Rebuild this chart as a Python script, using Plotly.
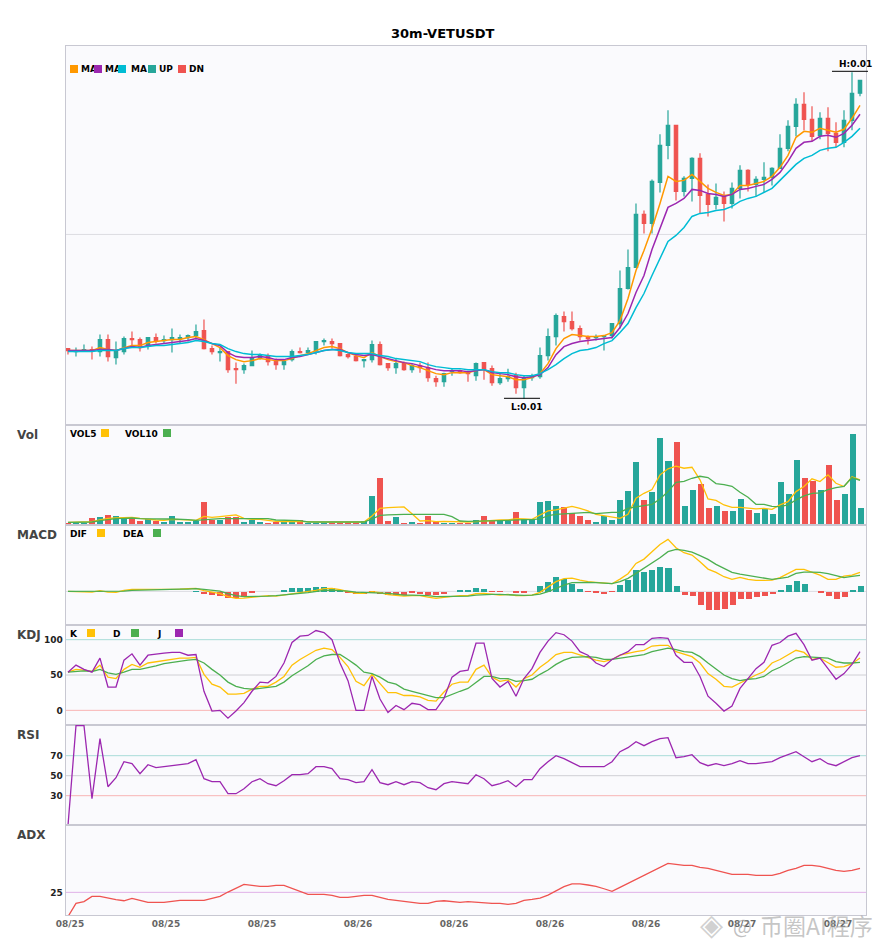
import plotly.graph_objects as go
from plotly.subplots import make_subplots

# Prices are in units of 1e-5 USDT
open_ = [1076,1073,1074,1075,1073,1085,1067,1073,1086,1085,1079,1087,1084,1085,1086,1087,1089,1094,1076,1072,
         1073,1056,1055,1059,1067,1069,1064,1060,1065,1073,1072,1074,1083,1083,1081,1070,1068,1064,1065,1080,
         1061,1057,1061,1055,1059,1057,1046,1043,1053,1054,1052,1049,1062,1056,1042,1046,1049,1037,1047,1048,
         1069,1088,1108,1103,1096,1087,1087,1088,1089,1101,1136,1157,1210,1201,1242,1279,1299,1233,1246,1266,
         1230,1220,1228,1221,1236,1254,1240,1245,1247,1256,1276,1298,1320,1305,1289,1306,1291,1282,1304,1331]
high = [1076,1077,1080,1078,1090,1090,1083,1088,1093,1087,1087,1091,1089,1096,1090,1090,1100,1105,1079,1077,
        1073,1062,1061,1074,1071,1071,1066,1064,1075,1077,1077,1083,1086,1086,1081,1071,1071,1065,1084,1083,
        1061,1066,1063,1061,1062,1062,1049,1052,1056,1055,1054,1062,1062,1059,1051,1056,1052,1049,1051,1077,
        1096,1111,1113,1113,1099,1089,1090,1089,1101,1154,1175,1221,1214,1245,1290,1314,1299,1248,1267,1271,
        1240,1241,1233,1242,1259,1255,1248,1262,1257,1290,1304,1326,1332,1318,1312,1317,1302,1314,1352,1344]
low = [1070,1068,1074,1065,1068,1063,1060,1070,1078,1073,1075,1081,1081,1072,1081,1083,1085,1075,1070,1063,
       1052,1041,1051,1059,1065,1059,1055,1055,1063,1071,1070,1070,1079,1076,1068,1066,1063,1057,1062,1059,
       1054,1051,1054,1052,1052,1043,1038,1038,1049,1051,1043,1044,1045,1039,1040,1043,1031,1026,1044,1046,
       1064,1079,1093,1094,1084,1080,1084,1074,1086,1096,1135,1157,1191,1191,1232,1265,1224,1228,1223,1211,
       1208,1215,1203,1216,1226,1233,1228,1232,1239,1256,1273,1288,1294,1283,1285,1273,1277,1277,1294,1328]
close = [1074,1074,1075,1074,1085,1068,1073,1086,1085,1077,1087,1084,1085,1087,1087,1089,1093,1076,1073,1073,
         1055,1055,1059,1067,1070,1063,1060,1063,1073,1072,1074,1083,1084,1081,1069,1068,1064,1065,1080,1060,
         1057,1061,1055,1059,1057,1047,1043,1051,1054,1052,1051,1061,1056,1042,1046,1048,1037,1046,1048,1069,
         1088,1109,1103,1096,1088,1086,1088,1089,1101,1136,1157,1210,1201,1243,1279,1299,1233,1246,1266,1229,
         1220,1227,1221,1236,1254,1240,1245,1247,1256,1276,1298,1320,1305,1288,1306,1291,1282,1304,1331,1344]
ma_a = [1074,1074,1074,1074,1077,1075,1074,1077,1079,1079,1082,1083,1084,1085,1085,1087,1088,1085,1081,1077,
        1069,1065,1063,1064,1066,1065,1064,1064,1066,1069,1071,1074,1077,1078,1076,1072,1069,1067,1072,1068,
        1065,1063,1062,1059,1057,1054,1051,1050,1052,1052,1052,1054,1055,1050,1049,1048,1045,1045,1047,1051,
        1061,1076,1086,1090,1089,1088,1088,1089,1092,1104,1126,1154,1174,1196,1221,1248,1243,1244,1250,1243,
        1236,1232,1229,1230,1239,1239,1241,1243,1248,1257,1269,1287,1293,1292,1296,1294,1292,1295,1306,1319]
ma_b = [1074,1074,1074,1074,1075,1075,1074,1076,1078,1077,1079,1080,1081,1082,1083,1084,1086,1084,1081,1079,
        1072,1068,1067,1067,1068,1067,1065,1065,1067,1068,1070,1072,1074,1075,1075,1072,1070,1069,1070,1068,
        1066,1064,1062,1061,1059,1057,1055,1054,1054,1054,1053,1054,1055,1052,1051,1050,1048,1047,1048,1050,
        1057,1070,1078,1081,1083,1084,1085,1086,1087,1097,1111,1132,1149,1175,1197,1217,1221,1226,1235,1234,
        1231,1230,1228,1230,1235,1236,1238,1240,1245,1252,1263,1276,1282,1283,1288,1289,1287,1291,1299,1310]
ma_c = [1073,1073,1073,1073,1074,1074,1074,1076,1077,1077,1078,1079,1079,1080,1081,1082,1084,1083,1081,1080,
        1076,1073,1071,1070,1070,1069,1068,1068,1068,1069,1070,1072,1074,1075,1074,1072,1071,1071,1071,1069,
        1068,1066,1065,1064,1063,1060,1058,1057,1056,1056,1055,1055,1055,1053,1052,1052,1050,1049,1049,1051,
        1055,1060,1066,1071,1074,1075,1077,1081,1084,1092,1101,1117,1131,1149,1166,1183,1189,1197,1208,1211,
        1212,1214,1215,1218,1223,1226,1228,1232,1236,1244,1252,1260,1266,1269,1274,1276,1277,1282,1288,1296]

volume = [2.3,2.3,2.3,6.7,7.7,9.7,8.7,5.7,5.7,3.7,5.7,4,2.7,8.7,2.7,2.7,4,22.7,5,4.7,
          7.7,7.7,2.7,4.7,2.7,1.7,2.7,2.7,4,4.7,1.7,2,1.7,1.7,1.7,1.7,1.7,3.7,28.7,46.7,
          3.7,7.7,1.7,2.7,1.7,8.7,2.7,1.7,1.7,1.7,1.7,4.7,8.7,3.7,4.7,3.7,12.7,5.7,4.7,22.7,
          23.7,18.7,17.7,12.3,8.7,4.7,2.7,8.7,4.7,24.7,33.7,62.7,24.7,32.7,86.7,63.7,82.7,18.7,34.7,40.7,
          16.7,18.7,13.7,13.7,25.7,14.7,11.7,15.7,10.7,42.7,30.7,64.7,46.7,43.7,34.7,59.7,24.7,30.7,90.7,16.7]
vol5 = [2.3,2.3,2.3,3,4.7,6.3,6.7,7.3,7.3,6.3,5.3,4.7,4.3,5.3,5,5,4.3,8.3,7.3,8,
        9,9.7,6.3,5.3,5.3,4,3.3,3,3,3.7,3,2.7,2.7,2.7,2.3,2.3,2,2.7,8.7,16.3,
        17,17.7,17.7,11,3.7,4,3,3.3,3,3,2.7,3,3.7,4.3,4.7,4.7,6,5.7,5.3,9.7,
        13.7,14.7,16.3,18.3,16.3,13.7,10.3,9,7.7,6.3,10.3,26.3,31.3,35,49.7,55.7,58.3,56.3,57.3,44.7,
        25.7,24.3,19.7,17.3,17.3,16.3,15.7,16.3,15.3,19.7,23,33,38,45.7,43,49.7,41.3,38,47.7,44.7]
vol10 = [2.3,2.3,2.3,2.7,4,5.3,6,6.3,6.7,6,5.7,5.7,5.7,5.7,5.7,5,4.3,5,5.3,6,
         6,6,6,6,6,6,4.7,4.7,4.7,4,2.7,2.7,2.7,2.7,2.7,2.7,2.7,2.7,5.7,9.3,
         9.7,10.3,10.3,10.3,10.3,10.3,10.3,10.3,8,3.7,3.3,3.3,3.7,3.7,4,4.3,5,5,5,5.7,
         9,10.3,10.7,11.3,12.3,12.3,11,12,12.3,12.3,16.3,17.7,18.7,20.3,25.7,33,42.3,43.3,46.3,48.3,
         47,41,40,38.3,32.3,27.3,20.3,20.3,18.3,18,19.7,24.7,28.7,31.3,31.7,35,37,38.3,47,44.3]

macd_hist = [0,0,0,0,0.7,0,0,0,0,0,0,0,0,0,0,0,0.7,-2.7,-3.7,-4.7,
             -6.7,-6.7,-5,-1.7,0,0,0,1.3,3.3,3.3,3.3,4.3,4.3,3.3,0.7,-1.3,-2,-2,-1,-2,
             -3.7,-3.7,-3.3,-1.7,-2,-3,-3.7,-2,0,1.3,1.3,3.3,2.3,-0.3,-0.3,0,-1.3,-1,0,5.3,
             9.3,14.3,12.3,7.3,2.3,-0.3,-1,-2.3,-0.3,6.3,11.7,21.3,19.3,21.3,24.3,23.3,5.3,-3.7,-4.7,-13.7,
             -18.7,-18.7,-17.7,-13.7,-7.7,-7.7,-5.7,-4.7,-2.7,1,6.3,10.3,7.3,0,-0.7,-4.7,-7.7,-5.7,1,5.3]
dif = [0,0,-0.3,-0.7,0.7,-0.7,-1,1,2,2,1.7,2,2.3,2.3,2.3,2.7,3,0.7,-1,-2.3,
       -5.3,-7,-6.7,-5.7,-4.7,-4.3,-4.7,-3.7,-2.3,-1.3,-0.3,1,2.7,3,1.7,-0.3,-2,-2,-0.3,-1.3,
       -3.3,-4,-4.7,-4.3,-4.3,-5.7,-7,-6,-5,-4.3,-4.3,-2.3,-2,-3,-3.7,-3,-4.3,-4.3,-3.7,-1,
       4,9.7,12.7,13.3,11.3,9.7,9,8,7.7,12.3,17.7,28,32.3,39.7,47,52,43.7,38.7,36.3,29.7,
       22.3,19,14.7,12,14,12,11,11,11.3,13.7,17.7,22,22,19.3,16.3,12,12,15.3,16.3,19]
dea = [0,0,0,0,0,-0.3,-0.3,0.3,1,1.3,1.7,1.7,2,2.3,2.3,2.3,2.7,2,1,0.3,
       -2.3,-4.3,-5.3,-5.3,-5,-4.7,-4.3,-3.3,-2.7,-2,-1.3,0,1,1.3,1,0.3,-0.7,-1,-0.7,-1,
       -2,-2.7,-3.7,-3.7,-3.7,-4.3,-5.3,-5.3,-5,-5,-4.7,-3.7,-3,-3,-3,-3.3,-4,-4,-3.7,-2.7,
       -0.3,3,6.3,8.7,9,9,8.7,8.3,7.7,9.7,13,18,23,28,33.7,39.7,42,41,39.3,35.7,
       32,27,23,19,17.3,16,14.3,13,12,13,14.3,18,19.3,19.3,19,17.7,15.7,13.7,15,16]

k_line = [54,58,57,55,64,47,45,58,65,61,67,69,71,72,74,74,75,51,37,33,
          23,23,24,30,34,34,40,48,64,72,78,85,88,86,75,62,41,35,51,38,
          25,25,21,21,19,14,13,26,37,40,40,58,64,47,41,43,33,45,50,61,
          69,79,82,82,78,74,71,69,72,78,81,83,85,91,92,92,83,79,76,67,
          52,44,34,33,39,45,50,55,67,72,78,85,82,72,74,68,61,62,66,74]
d_line = [54,55,56,55,58,53,51,54,58,58,60,63,66,68,69,71,72,67,58,50,
          40,34,31,30,31,33,34,40,49,56,63,72,77,79,79,72,64,54,52,47,
          40,37,30,27,24,21,18,18,23,27,31,40,48,48,45,45,41,42,44,51,
          57,65,71,75,76,76,75,72,72,74,75,78,79,83,86,88,86,83,82,76,
          67,58,50,45,42,44,45,48,56,61,67,74,76,75,75,74,69,67,67,68]
j_line = [54,64,58,54,74,33,33,71,80,64,78,80,81,82,82,78,79,27,-1,0,
          -11,-1,11,27,40,39,48,67,96,105,106,113,110,100,67,42,0,0,48,16,
          -3,7,1,10,8,1,1,17,47,55,57,95,95,45,33,41,20,45,59,82,
          98,110,107,98,83,78,67,62,72,78,83,93,93,102,103,102,78,68,68,48,
          20,10,-1,6,31,45,59,68,92,96,105,109,93,71,74,59,44,52,65,83]
rsi = [0,100,100,27,87,39,48,64,62,52,61,58,59,60,61,62,66,47,44,44,
       32,32,37,44,47,42,40,45,51,51,52,59,59,57,47,46,43,44,56,43,
       41,44,41,44,43,38,36,42,44,43,42,51,47,40,42,45,39,46,46,57,
       64,70,67,63,59,59,59,59,64,74,78,84,80,84,87,88,68,69,71,63,
       60,62,60,62,65,62,62,63,64,68,71,74,69,64,67,62,60,64,68,70]
adx = [8.8,17.7,18.8,22.3,22.3,21,20.1,19.4,21,19.7,18.3,18.3,18.3,19,19.7,19.7,19.7,19.7,21,22.3,
       25.2,27.7,30.3,29.7,29,29,29.7,29.7,27.7,25.7,23.7,23.7,23.7,23,21.7,21.7,22.3,23,23,21.7,
       20.3,19.7,19,18.3,17.7,17.7,19,19.4,18.8,18.3,18.8,18.3,17.7,17.7,17.7,17,17.7,19.7,20.3,21.2,
       23.2,26.1,28.8,30.6,30.6,29.9,29,27.4,25.7,28.3,31,33.7,36.3,39,41.7,44.3,43.7,43,43,41.7,
       41,39.7,38.3,37,37,37,36.3,36.3,36.3,37.7,39.7,41,43,43,42.3,41,39.7,39,39.7,41]

tick_idx = [0, 12, 24, 36, 48, 60, 72, 84, 96]
tick_labels = ["08/25", "08/25", "08/25", "08/26", "08/26", "08/26", "08/26", "08/27", "08/27"]

W, H = 885, 950
TEAL, RED = "#26a69a", "#ef5350"
ORANGE, PURPLE, CYAN = "#ff9800", "#9c27b0", "#00bcd4"
YEL, GRN = "#ffc107", "#4caf50"
FONT = "DejaVu Sans"
LEFT, RIGHT = 65.5, 866.0
X_RANGE = [-0.31, 99.75]
EDGES = [45.5, 424.7, 524.7, 624.7, 724.7, 824.7, 915.3]
Y_RANGES = [[1000, 1378.7], [0, 99.7], [-33.3, 66.7], [-20.3, 121.2], [1, 101], [9.7, 70.1]]

xs = list(range(len(close)))
px = lambda v: v / W
py = lambda v: 1 - v / H
idx_px = lambda i: LEFT + (i - X_RANGE[0]) / (X_RANGE[1] - X_RANGE[0]) * (RIGHT - LEFT)

fig = make_subplots(rows=6, cols=1, shared_xaxes=True, vertical_spacing=0)
bar_colors = [TEAL if c >= o else RED for o, c in zip(open_, close)]
hist_colors = [TEAL if v >= 0 else RED for v in macd_hist]


def line(y, color, row, width=1.3):
    fig.add_trace(go.Scatter(x=xs, y=y, mode="lines", line=dict(color=color, width=width), hoverinfo="skip"), row=row, col=1)


fig.add_trace(go.Candlestick(x=xs, open=open_, high=high, low=low, close=close,
                             increasing=dict(line=dict(color=TEAL, width=1.2), fillcolor=TEAL),
                             decreasing=dict(line=dict(color=RED, width=1.2), fillcolor=RED),
                             whiskerwidth=0), row=1, col=1)
line(ma_a, ORANGE, 1, 1.5)
line(ma_b, PURPLE, 1, 1.5)
line(ma_c, CYAN, 1, 1.5)
fig.add_trace(go.Bar(x=xs, y=volume, marker=dict(color=bar_colors, line_width=0), width=0.75), row=2, col=1)
line(vol5, YEL, 2)
line(vol10, GRN, 2)
fig.add_trace(go.Bar(x=xs, y=macd_hist, marker=dict(color=hist_colors, line_width=0), width=0.75), row=3, col=1)
line(dif, YEL, 3)
line(dea, GRN, 3)
line(k_line, YEL, 4)
line(d_line, GRN, 4)
line(j_line, PURPLE, 4)
line(rsi, PURPLE, 5)
line(adx, RED, 6)

# reference levels: (row, value, colour)
levels = [(1, 1190, "#dcdce2"), (3, 0, "#dcdce2"),
          (4, 100, "#a8dcd8"), (4, 50, "#cfcfd4"), (4, 0, "#f8b4b4"),
          (5, 70, "#a8dcd8"), (5, 50, "#cfcfd4"), (5, 30, "#f8b4b4"),
          (6, 25, "#e0b0e8")]
for row, val, col in levels:
    fig.add_hline(y=val, line=dict(color=col, width=1), layer="below", row=row, col=1)

BORDER = "#c8c8d2"
for n in range(1, 7):
    fig.update_xaxes(row=n, col=1, range=X_RANGE, domain=[px(LEFT), px(RIGHT)], showgrid=False, zeroline=False,
                     showline=True, mirror=True, linecolor=BORDER, linewidth=1, ticks="",
                     rangeslider_visible=False, showticklabels=False, automargin=False)
    fig.update_yaxes(row=n, col=1, range=Y_RANGES[n - 1], domain=[py(EDGES[n]), py(EDGES[n - 1])],
                     showgrid=False, zeroline=False, showline=True, mirror=True, linecolor=BORDER,
                     linewidth=1, ticks="", showticklabels=False, automargin=False)
fig.update_xaxes(row=6, col=1, showticklabels=True, tickmode="array",
                 tickvals=[t + 0.25 for t in tick_idx], ticktext=tick_labels,
                 tickfont=dict(family=FONT, size=9, color="#666666", weight="bold"))
ytick = dict(showticklabels=True, tickmode="array", tickfont=dict(family=FONT, size=9, color="#222222", weight="bold"))
fig.update_yaxes(row=4, col=1, tickvals=[100, 50, 0], **ytick)
fig.update_yaxes(row=5, col=1, tickvals=[70, 50, 30], **ytick)
fig.update_yaxes(row=6, col=1, tickvals=[25], **ytick)


def label(x, y, text, size=9, color="#000000", bold=True, anchor="left", family=FONT):
    fig.add_annotation(xref="paper", yref="paper", x=px(x), y=py(y), text=f"<b>{text}</b>" if bold else text,
                       showarrow=False, xanchor=anchor, yanchor="middle", borderpad=0, borderwidth=0,
                       font=dict(family=family, size=size, color=color))


def square(x0, y0, color):
    fig.add_annotation(xref="paper", yref="paper", x=px(x0), y=py(y0), text=" ", showarrow=False,
                       xanchor="left", yanchor="top", width=8, height=8, bgcolor=color, borderpad=0,
                       borderwidth=0, font=dict(size=1))


label(443, 34, "30m-VETUSDT", size=13, anchor="center")
for y, txt in zip([434.5, 535, 635, 735, 835], ["Vol", "MACD", "KDJ", "RSI", "ADX"]):
    label(17, y, txt, size=12, color="#444444")

for x, txt in [(81, "MA"), (105, "MA"), (131, "MA"), (159, "UP"), (189, "DN")]:
    label(x, 69, txt)
for x, col in [(70, ORANGE), (94, PURPLE), (118, CYAN), (148, TEAL), (178, RED)]:
    square(x, 64.7, col)

for x, txt in [(70, "VOL5"), (125, "VOL10")]:
    label(x, 433.5, txt)
square(101, 429, YEL)
square(163, 429, GRN)
for x, txt in [(70, "DIF"), (123, "DEA")]:
    label(x, 534, txt)
square(97, 529, YEL)
square(153, 529, GRN)
for x, txt in [(70, "K"), (113, "D"), (157, "J")]:
    label(x, 633.5, txt)
square(87, 629, YEL)
square(131, 629, GRN)
square(175, 629, PURPLE)

# extreme markers
i_hi = high.index(max(high))
i_lo = low.index(min(low))
for i, y, ty, txt in [(i_hi, 71.3, 64.5, "H:0.01"), (i_lo, 398.3, 406.7, "L:0.01")]:
    c = idx_px(i)
    fig.add_shape(type="line", xref="paper", yref="paper", x0=px(c - 20), x1=px(c + 16), y0=py(y), y1=py(y),
                  line=dict(color="#000000", width=1), layer="above")
    label(c + 3.5, ty, txt, anchor="center")

# watermark
label(700, 924, "◈", size=30, color="rgba(170,170,170,0.55)", bold=False)
label(733, 925, "@", size=20, color="rgba(150,150,150,0.6)", bold=False, family="Noto Sans CJK SC")
label(760, 925, "币圈AI程序", size=23, color="rgba(160,160,160,0.6)", bold=False, family="Noto Sans CJK SC")

fig.update_layout(width=W, height=H, autosize=False, margin=dict(l=0, r=0, t=0, b=0, autoexpand=False),
                  paper_bgcolor="#ffffff", plot_bgcolor="#fafafd", showlegend=False, bargap=0, boxgap=0.4,
                  font=dict(family=FONT), hovermode=False)
fig.write_html("out.html", config=dict(displayModeBar=False),
               post_script="document.body.style.margin='0';document.documentElement.style.overflow='hidden';")
